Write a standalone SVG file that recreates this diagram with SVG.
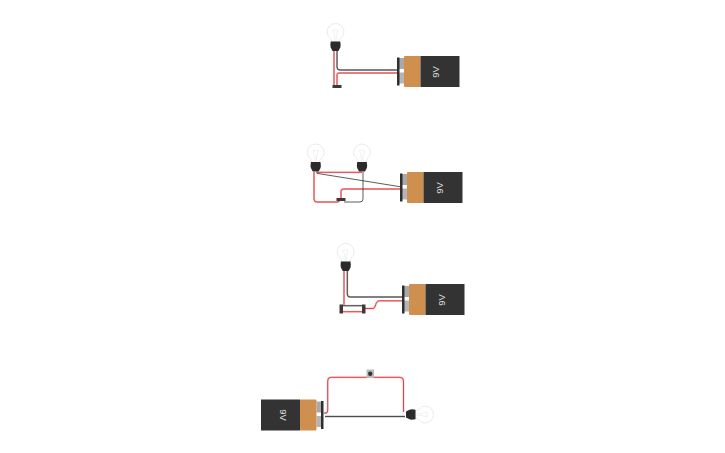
<svg xmlns="http://www.w3.org/2000/svg" width="725" height="453" viewBox="0 0 725 453">
<style>
.halo{fill:none;stroke-width:1.8;stroke-linejoin:round}
.core{fill:none;stroke-width:.8;stroke-linejoin:round}
.rh{stroke:#f4b5b5}.rc{stroke:#e0282c}
.kh{stroke:#b5b5b5}.kc{stroke:#333}
.label{font-family:"Liberation Sans",Arial,sans-serif;font-size:9.500px;fill:#ddd;text-anchor:middle}
</style>
<defs>
<g id="battery">
<rect x="2" y="-13.500" width="5" height="11" fill="#a9a9a9"/>
<rect x="2" y="1" width="5" height="11" fill="#b5b5b5"/>
<rect x="0" y="-14" width="2.500" height="28" fill="#2f2f2f"/>
<rect x="7" y="-15.500" width="16.500" height="31" rx="1" fill="#cf8f4e"/>
<rect x="23.500" y="-15.500" width="39" height="31" fill="#333"/>
</g>
<g id="bulb">
<path d="M-3.500 10C-3.500 6-8.500 5-8.500 0A8.500 8.500 0 0 1 8.500 0C8.500 5 3.500 6 3.500 10Z" fill="#fff" stroke="#dcdcdc" stroke-width=".6"/>
<path d="M-2.500 -2H2.500L.8 4V9M-.8 9V4L-2.500 -2" fill="none" stroke="#e2e2e2" stroke-width=".5"/>
<path d="M-4.800 9.500H4.800Q5.500 14 4.800 15.500L3 19H-3L-4.800 15.500Q-5.500 14-4.800 9.500Z" fill="#2b2b2b"/>
</g>
<g id="part"><rect x="-4.500" y="-1.500" width="9" height="3" fill="#3a3a3a"/></g>
</defs>

<g id="connectors">
<g><path class="halo rh" d="M334 50V87"/><path class="halo rh" d="M337 87V75Q337 73 339 73H397"/><path class="halo rh" d="M314 172V199Q314 202 317 202H338L340.500 200"/><path class="halo rh" d="M316 172.300H362"/><path class="halo rh" d="M341 199V191Q341 189 344 189H400"/><path class="halo rh" d="M344 270V306"/><path class="halo rh" d="M342 311.700H363"/><path class="halo rh" d="M364 308.500H373C376 308.500 375 301 379 300.800H402"/><path class="halo rh" d="M324 413H326Q327.700 413 327.700 410V381Q327.700 377.300 331 377.300H367M373 377.300H400Q403.500 377.300 403.500 381V412"/></g>
<g><path class="core rc" d="M334 50V87"/><path class="core rc" d="M337 87V75Q337 73 339 73H397"/><path class="core rc" d="M314 172V199Q314 202 317 202H338L340.500 200"/><path class="core rc" d="M316 172.300H362"/><path class="core rc" d="M341 199V191Q341 189 344 189H400"/><path class="core rc" d="M344 270V306"/><path class="core rc" d="M342 311.700H363"/><path class="core rc" d="M364 308.500H373C376 308.500 375 301 379 300.800H402"/><path class="core rc" d="M324 413H326Q327.700 413 327.700 410V381Q327.700 377.300 331 377.300H367M373 377.300H400Q403.500 377.300 403.500 381V412"/></g>
<g><path class="halo kh" d="M337 50V67Q337 70 340 70H397"/><path class="halo kh" d="M347.300 270V294Q347.300 297 350 297H402"/><path class="halo kh" d="M342 305.700H363"/><path class="halo kh" d="M325 416.500H405"/></g>
<g><path class="core kc" d="M337 50V67Q337 70 340 70H397"/><path class="core kc" d="M347.300 270V294Q347.300 297 350 297H402"/><path class="core kc" d="M342 305.700H363"/><path class="core kc" d="M325 416.500H405"/><path class="core kc" d="M316.700 173.300L400 186.700"/><path class="core kc" d="M363 172V199Q363 202 360 202H344"/></g>
</g>

<g id="bulb-1"><use href="#bulb" transform="translate(335.500 32)"/></g>
<g id="part-1"><use href="#part" transform="translate(337 86.500)"/></g>
<g id="battery-1"><use href="#battery" transform="translate(397 71.500)"/><text class="label" transform="translate(436 72) rotate(-90)" y="3.400">9V</text></g>

<g id="bulb-2"><use href="#bulb" transform="translate(315.700 152.500)"/></g>
<g id="bulb-3"><use href="#bulb" transform="translate(362 152.500)"/></g>
<g id="part-2"><use href="#part" transform="translate(341 199.500)"/></g>
<g id="battery-2"><use href="#battery" transform="translate(400 187.500)"/><text class="label" transform="translate(439.500 188) rotate(-90)" y="3.400">9V</text></g>

<g id="bulb-4"><use href="#bulb" transform="translate(345.700 252)"/></g>
<g id="part-3"><rect x="339.500" y="304.500" width="3.500" height="9" fill="#3a3a3a"/></g>
<g id="part-4"><rect x="362" y="304.500" width="3.500" height="9" fill="#3a3a3a"/></g>
<g id="battery-3"><use href="#battery" transform="translate(402 299.500)"/><text class="label" transform="translate(441.500 300) rotate(-90)" y="3.400">9V</text></g>

<g id="switch"><rect x="366.500" y="369.500" width="7.500" height="8.500" fill="#bbb"/><circle cx="370.200" cy="373.700" r="2.200" fill="#333"/></g>
<g id="bulb-5"><use href="#bulb" transform="translate(425 414.500) rotate(90)"/></g>
<g id="battery-4"><use href="#battery" transform="translate(323.500 415) scale(-1 1)"/><text class="label" transform="translate(283 415) rotate(90)" y="3.400">9V</text></g>
</svg>
